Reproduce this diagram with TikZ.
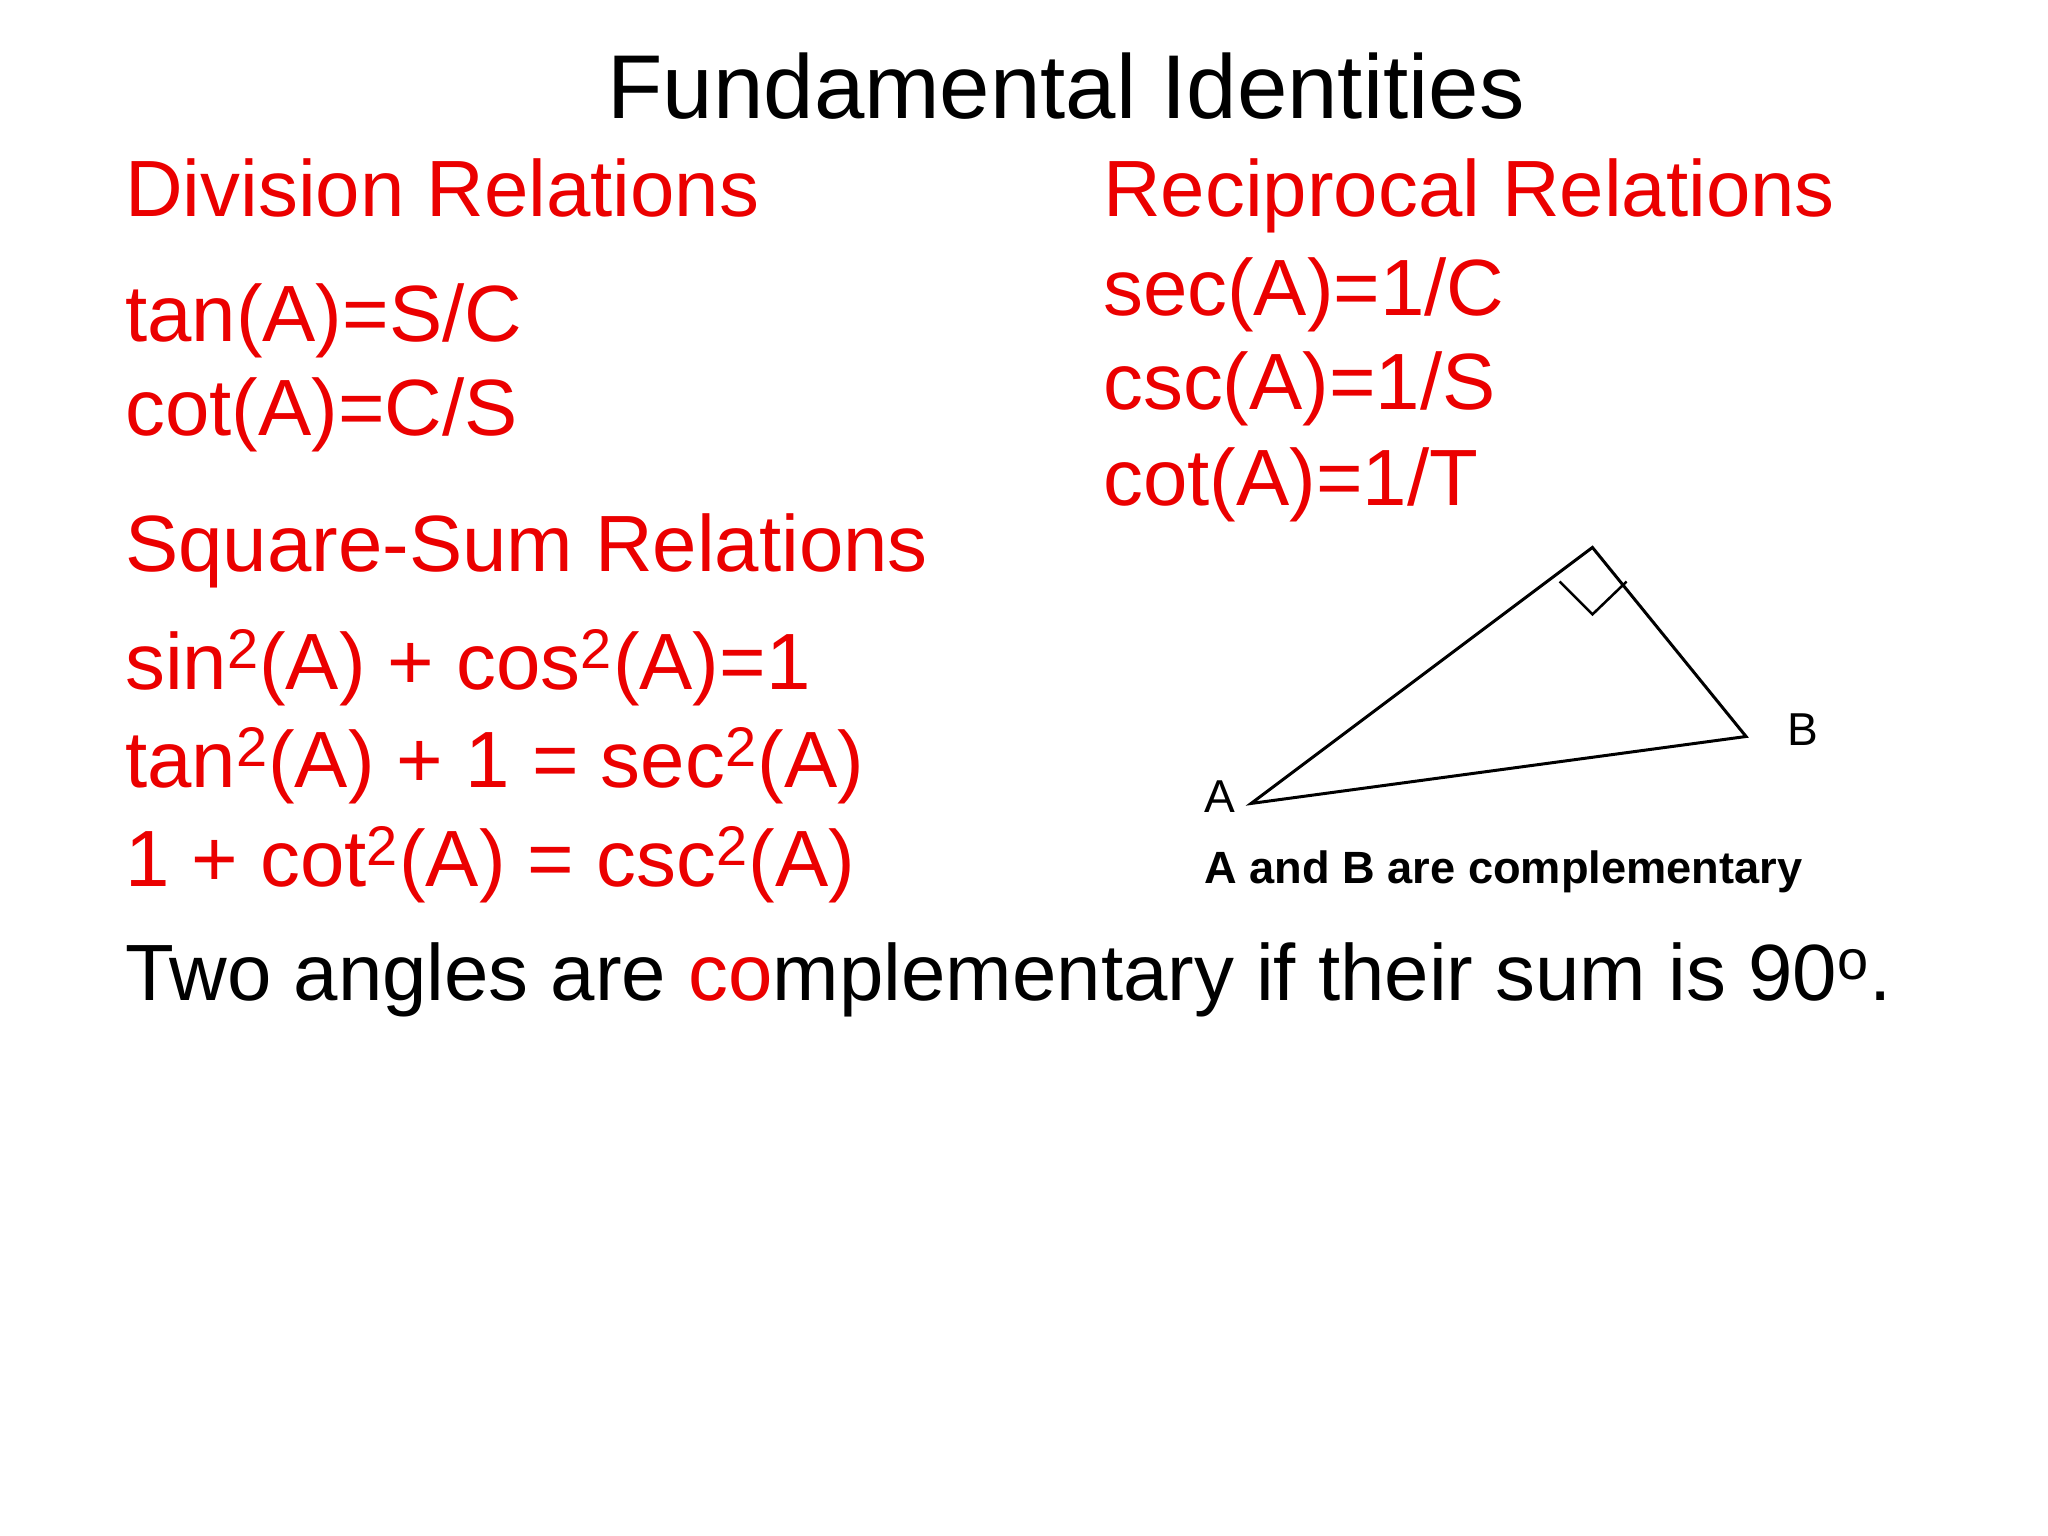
\documentclass[tikz,border=0pt]{standalone}
\usepackage{fontspec}
\setmainfont{Liberation Sans}
\definecolor{rd}{RGB}{235,0,0}
\begin{document}
\begin{tikzpicture}[x=0.02cm,y=-0.02cm,
  t/.style={anchor=base west,inner sep=0,font=\fontsize{34.6}{38}\selectfont},
  r/.style={t,text=rd}]
\useasboundingbox[fill=white] (0,0) rectangle (1560,1170);
\node[anchor=base,inner sep=0,font=\fontsize{39.3}{42}\selectfont] (title) at (812,90) {Fundamental Identities};
\node[r] (dr) at (95,165) {Division Relations};
\node[r] (d1) at (95,260) {tan(A)=S/C};
\node[r] (d2) at (95,332) {cot(A)=C/S};
\node[r] (sr) at (95,435) {Square-Sum Relations};
\node[r] (s1) at (95,525) {sin\textsuperscript{2}(A) + cos\textsuperscript{2}(A)=1};
\node[r] (s2) at (95,600) {tan\textsuperscript{2}(A) + 1 = sec\textsuperscript{2}(A)};
\node[r] (s3) at (95,675) {1 + cot\textsuperscript{2}(A) = csc\textsuperscript{2}(A)};
\node[r] (rr) at (840,165) {Reciprocal Relations};
\node[r] (r1) at (840,240) {sec(A)=1/C};
\node[r] (r2) at (840,312) {csc(A)=1/S};
\node[r] (r3) at (840,385) {cot(A)=1/T};
\node[t] (two) at (95,762) {Two angles are \textcolor{rd}{co}mplementary if their sum is 90\textsuperscript{o}.};
\coordinate (A) at (953,612);
\coordinate (B) at (1330,561);
\coordinate (C) at (1213,417);
\draw[line width=1.3pt] (A) -- (B) -- (C) -- cycle;
\coordinate (m1) at (1188,443);
\coordinate (m2) at (1213,468);
\coordinate (m3) at (1239,443);
\draw[line width=1.1pt] (m1) -- (m2) -- (m3);
\node[anchor=base,inner sep=0,font=\fontsize{20}{22}\selectfont] (la) at (929,619) {A};
\node[anchor=base,inner sep=0,font=\fontsize{20}{22}\selectfont] (lb) at (1373,568) {B};
\node[anchor=base west,inner sep=0,font=\bfseries\fontsize{19.6}{22}\selectfont] (cap) at (917,673) {A and B are complementary};
\end{tikzpicture}
\end{document}
